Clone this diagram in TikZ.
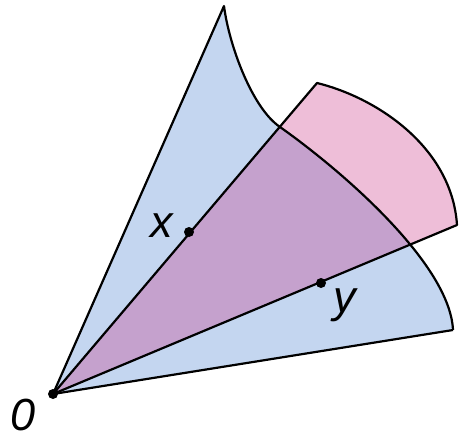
\documentclass[tikz,border=0pt]{standalone}
\usepackage{fontspec}
\setsansfont{Liberation Sans}
\usepackage{xcolor}
\definecolor{coneBlue}{RGB}{196, 214, 240}
\definecolor{conePink}{RGB}{200, 40, 125}
\usetikzlibrary{positioning}

\begin{document}
\begin{tikzpicture}[x=1pt, y=-1pt,
  edge/.style={draw=black, line width=2.2pt, line join=round},
  dot/.style={circle, fill=black, inner sep=0pt, minimum size=10pt},
  lbl/.style={font=\sffamily\itshape\fontsize{45}{45}\selectfont, inner sep=0pt}]
\useasboundingbox (0,0) rectangle (474,442);

% corners of the two cones
\coordinate (o) at (53,394);
\coordinate (tip) at (224,6);
\coordinate (mid) at (280,127);
\coordinate (low) at (453,330);
\coordinate (pa) at (317,83);
\coordinate (pb) at (457,225);

% blue cone
\fill[coneBlue] (o) -- (tip) .. controls (229,45) and (252,108) .. (mid)
  .. controls (345,173) and (450,265) .. (low) -- cycle;

% pink sector
\fill[conePink, fill opacity=0.3] (o) -- (pa) .. controls (378,98) and (452,148) .. (pb) -- cycle;

% outlines
\draw[edge] (low) -- (o) -- (tip) .. controls (229,45) and (252,108) .. (mid)
  .. controls (345,173) and (450,265) .. (low);
\draw[edge] (o) -- (pa) .. controls (378,98) and (452,148) .. (pb) -- cycle;

% points
\node[dot] (odot) at (o) {};
\node[dot] (x) at (189,232) {};
\node[dot] (y) at (321,283) {};

\node[lbl] (xl) at (162,226) {x};
\node[lbl] (yl) at (345,305) {y};
\node[lbl] (ol) at (23,415) {0};
\end{tikzpicture}
\end{document}
